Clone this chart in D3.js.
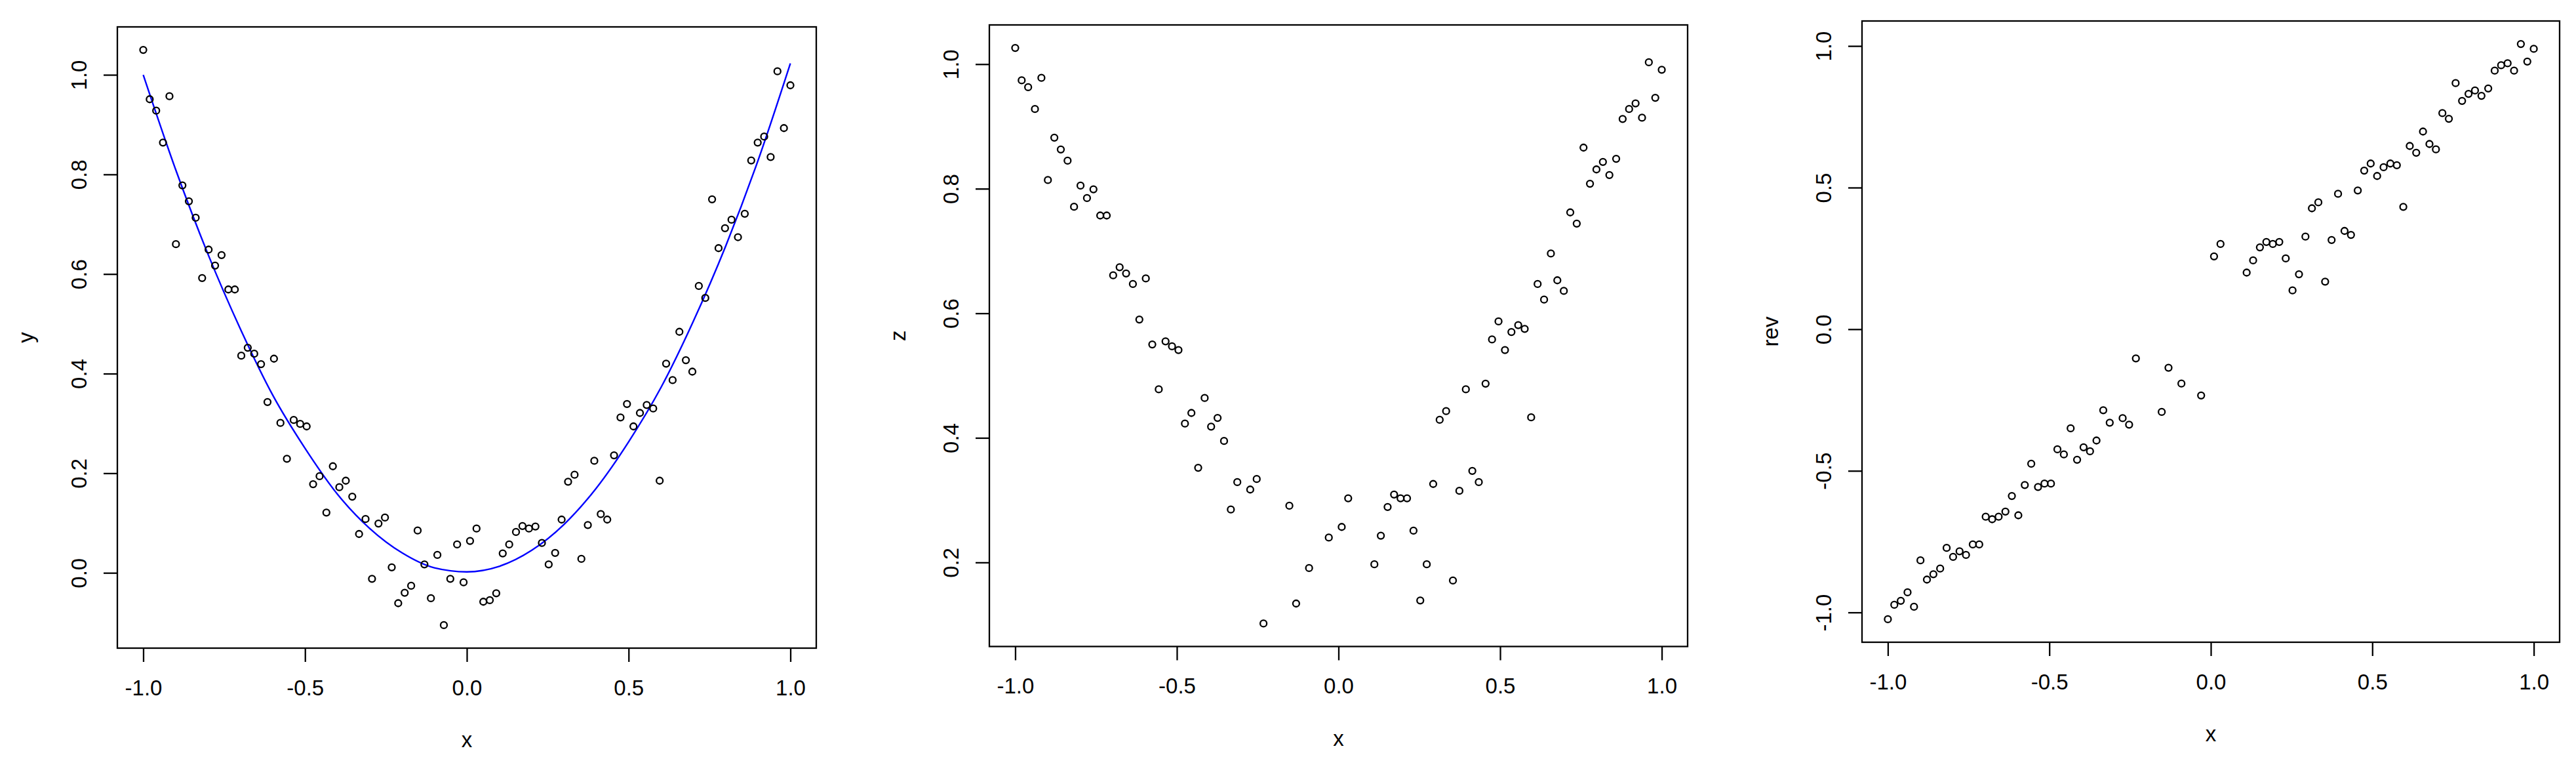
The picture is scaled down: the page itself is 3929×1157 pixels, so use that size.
<!DOCTYPE html>
<html>
<head>
<meta charset="utf-8">
<script src="https://cdn.jsdelivr.net/npm/d3@7"></script>
<style>
  body { margin: 0; background: #fff; }
  svg { display: block; font-family: 'Liberation Sans', Arial, sans-serif; }
</style>
</head>
<body>
<div id="chart"></div>
<script>
/** DATA **/
// x is shared by all three panels
const xs = [
  -1.000, -0.980, -0.960, -0.939, -0.919, -0.899, -0.879, -0.859, -0.838, -0.818,
  -0.798, -0.778, -0.758, -0.737, -0.717, -0.697, -0.677, -0.657, -0.636, -0.616,
  -0.596, -0.576, -0.556, -0.535, -0.515, -0.495, -0.475, -0.455, -0.434, -0.414,
  -0.394, -0.374, -0.354, -0.333, -0.313, -0.293, -0.273, -0.253, -0.232, -0.212,
  -0.192, -0.172, -0.152, -0.131, -0.111, -0.091, -0.071, -0.051, -0.030, -0.010,
   0.010,  0.030,  0.051,  0.071,  0.091,  0.111,  0.131,  0.152,  0.172,  0.192,
   0.212,  0.232,  0.253,  0.273,  0.293,  0.313,  0.333,  0.354,  0.374,  0.394,
   0.414,  0.434,  0.455,  0.475,  0.495,  0.515,  0.535,  0.556,  0.576,  0.596,
   0.616,  0.636,  0.657,  0.677,  0.697,  0.717,  0.737,  0.758,  0.778,  0.798,
   0.818,  0.838,  0.859,  0.879,  0.899,  0.919,  0.939,  0.960,  0.980,  1.000
];

const ys = [
  1.050, 0.951, 0.928, 0.864, 0.957, 0.660, 0.778, 0.746, 0.713, 0.592,
  0.649, 0.617, 0.638, 0.569, 0.569, 0.436, 0.452, 0.440, 0.419, 0.343,
  0.430, 0.301, 0.229, 0.307, 0.299, 0.294, 0.178, 0.194, 0.121, 0.214,
  0.172, 0.185, 0.153, 0.078, 0.108, -0.012, 0.099, 0.111, 0.011, -0.061,
  -0.040, -0.026, 0.085, 0.017, -0.051, 0.036, -0.105, -0.012, 0.057, -0.019,
  0.064, 0.089, -0.058, -0.055, -0.041, 0.039, 0.057, 0.082, 0.094, 0.089,
  0.093, 0.060, 0.017, 0.040, 0.107, 0.183, 0.197, 0.028, 0.096, 0.225,
  0.118, 0.107, 0.236, 0.312, 0.339, 0.294, 0.321, 0.337, 0.330, 0.185,
  0.420, 0.387, 0.484, 0.427, 0.404, 0.576, 0.552, 0.750, 0.652, 0.692,
  0.709, 0.674, 0.721, 0.828, 0.864, 0.876, 0.835, 1.007, 0.893, 0.979
];

// z has no point where y < 0 (null = not drawn)
const zs = [
  1.026, 0.974, 0.963, 0.928, 0.978, 0.814, 0.882, 0.863, 0.845, 0.771,
  0.805, 0.785, 0.799, 0.757, 0.757, 0.661, 0.674, 0.664, 0.647, 0.590,
  0.656, 0.550, 0.478, 0.555, 0.547, 0.541, 0.423, 0.440, 0.352, 0.464,
  0.418, 0.432, 0.395, 0.285, 0.329, null, 0.317, 0.334, 0.102, null,
  null, null, 0.291, 0.134, null, 0.191, null, null, 0.240, null,
  0.257, 0.303, null, null, null, 0.197, 0.243, 0.289, 0.309, 0.303,
  0.303, 0.251, 0.139, 0.197, 0.326, 0.429, 0.443, 0.171, 0.315, 0.478,
  0.347, 0.329, 0.487, 0.558, 0.587, 0.541, 0.570, 0.581, 0.575, 0.433,
  0.647, 0.622, 0.696, 0.653, 0.636, 0.762, 0.744, 0.866, 0.808, 0.831,
  0.843, 0.822, 0.848, 0.912, 0.928, 0.937, 0.914, 1.003, 0.946, 0.991
];

const revs = [
  -1.024, -0.973, -0.959, -0.929, -0.980, -0.816, -0.884, -0.865, -0.845, -0.772,
  -0.804, -0.784, -0.797, -0.760, -0.760, -0.662, -0.671, -0.662, -0.644, -0.589,
  -0.657, -0.550, -0.475, -0.557, -0.545, -0.545, -0.424, -0.442, -0.350, -0.461,
  -0.417, -0.431, -0.393, -0.286, -0.330, null, -0.314, -0.337, -0.103, null,
  null, null, -0.292, -0.136, null, -0.192, null, null, -0.234, null,
  0.257, 0.301, null, null, null, 0.200, 0.243, 0.289, 0.308, 0.301,
  0.308, 0.250, 0.137, 0.194, 0.327, 0.427, 0.448, 0.168, 0.315, 0.478,
  0.347, 0.333, 0.490, 0.560, 0.585, 0.541, 0.572, 0.585, 0.579, 0.432,
  0.647, 0.623, 0.698, 0.654, 0.635, 0.763, 0.743, 0.869, 0.806, 0.831,
  0.843, 0.824, 0.850, 0.913, 0.932, 0.939, 0.913, 1.007, 0.945, 0.990
];

// blue fitted curve on panel 1, read at x = -1, -0.9, ..., 1
const fitX = [-1.0, -0.9, -0.8, -0.7, -0.6, -0.5, -0.4, -0.3, -0.2, -0.1, 0.0,
  0.1, 0.2, 0.3, 0.4, 0.5, 0.6, 0.7, 0.8, 0.9, 1.0];
const fitY = [1.000, 0.810, 0.640, 0.490, 0.357, 0.250, 0.158, 0.089, 0.040, 0.010, 0.002,
  0.013, 0.045, 0.097, 0.170, 0.263, 0.372, 0.505, 0.656, 0.828, 1.023];

// tick labels
const xTicks = [-1.0, -0.5, 0.0, 0.5, 1.0];
const yTicks = [0.0, 0.2, 0.4, 0.6, 0.8, 1.0];
const zTicks = [0.2, 0.4, 0.6, 0.8, 1.0];
const revTicks = [-1.0, -0.5, 0.0, 0.5, 1.0];

/** LAYOUT **/
const W = 3929, H = 1157;
const FONT = 33;
const TICK = 21;
const LW = 2.3;

const svg = d3.select('#chart').append('svg')
  .attr('width', W)
  .attr('height', H);

svg.append('rect')
  .attr('width', W)
  .attr('height', H)
  .attr('fill', '#fff');

// R pads the data range by 4% on each side
function rRange (vals) {
  let ext = d3.extent(vals.filter(v => v != null));
  let d = (ext[1] - ext[0]) * 0.04;
  return [ext[0] - d, ext[1] + d];
}

function fmt (v) {
  return v.toFixed(1);
}

function drawPanel (box, yVals, yTickVals, yLabel, fit) {
  let x = d3.scaleLinear().domain(rRange(xs)).range([box.left, box.right]);
  let y = d3.scaleLinear().domain(rRange(yVals)).range([box.bottom, box.top]);

  let g = svg.append('g');

  // x axis (ticks + labels), no domain line: box covers it
  let gx = g.append('g')
    .attr('transform', 'translate(0,' + box.bottom + ')')
    .call(d3.axisBottom(x).tickValues(xTicks).tickFormat(fmt).tickSize(TICK));
  gx.select('.domain').remove();
  gx.selectAll('.tick line').attr('stroke', '#000').attr('stroke-width', LW);
  gx.selectAll('.tick text')
    .attr('y', 60)
    .attr('dy', null)
    .attr('dominant-baseline', 'central')
    .attr('fill', '#000')
    .style('font-size', FONT + 'px')
    .style('font-family', 'Liberation Sans, Arial, sans-serif');

  // y axis, labels parallel to the axis
  let gy = g.append('g')
    .attr('transform', 'translate(' + box.left + ',0)')
    .call(d3.axisLeft(y).tickValues(yTickVals).tickFormat(fmt).tickSize(TICK));
  gy.select('.domain').remove();
  gy.selectAll('.tick line').attr('stroke', '#000').attr('stroke-width', LW);
  gy.selectAll('.tick text')
    .attr('x', null)
    .attr('dy', null)
    .attr('transform', 'translate(-59,0) rotate(-90)')
    .attr('text-anchor', 'middle')
    .attr('dominant-baseline', 'central')
    .attr('fill', '#000')
    .style('font-size', FONT + 'px')
    .style('font-family', 'Liberation Sans, Arial, sans-serif');

  // fitted line goes under the points
  if (fit) {
    g.append('path')
      .datum(fit.x.map((v, i) => [v, fit.y[i]]))
      .attr('fill', 'none')
      .attr('stroke', '#0000ff')
      .attr('stroke-width', 2.4)
      .attr('d', d3.line()
        .x(d => x(d[0]))
        .y(d => y(d[1]))
        .curve(d3.curveMonotoneX)
      );
  }

  // open circles
  let pts = xs.map((v, i) => [v, yVals[i]]).filter(d => d[1] != null);
  g.append('g').selectAll('circle')
    .data(pts)
    .join('circle')
    .attr('cx', d => x(d[0]))
    .attr('cy', d => y(d[1]))
    .attr('r', 5)
    .attr('fill', 'none')
    .attr('stroke', '#000')
    .attr('stroke-width', LW);

  // frame
  g.append('rect')
    .attr('x', box.left)
    .attr('y', box.top)
    .attr('width', box.right - box.left)
    .attr('height', box.bottom - box.top)
    .attr('fill', 'none')
    .attr('stroke', '#000')
    .attr('stroke-width', LW);

  // axis titles
  g.append('text')
    .attr('x', (box.left + box.right) / 2)
    .attr('y', box.bottom + 151)
    .attr('text-anchor', 'middle')
    .attr('fill', '#000')
    .style('font-size', FONT + 'px')
    .text('x');

  let cy = (box.top + box.bottom) / 2;
  g.append('text')
    .attr('transform', 'translate(' + (box.left - 128) + ',' + cy + ') rotate(-90)')
    .attr('text-anchor', 'middle')
    .attr('fill', '#000')
    .style('font-size', FONT + 'px')
    .text(yLabel);
}

drawPanel({left: 179, top: 41, right: 1245, bottom: 988}, ys, yTicks, 'y', {x: fitX, y: fitY});
drawPanel({left: 1509, top: 38, right: 2574, bottom: 985.5}, zs, zTicks, 'z', null);
drawPanel({left: 2840, top: 32, right: 3904, bottom: 979}, revs, revTicks, 'rev', null);
</script>
</body>
</html>
